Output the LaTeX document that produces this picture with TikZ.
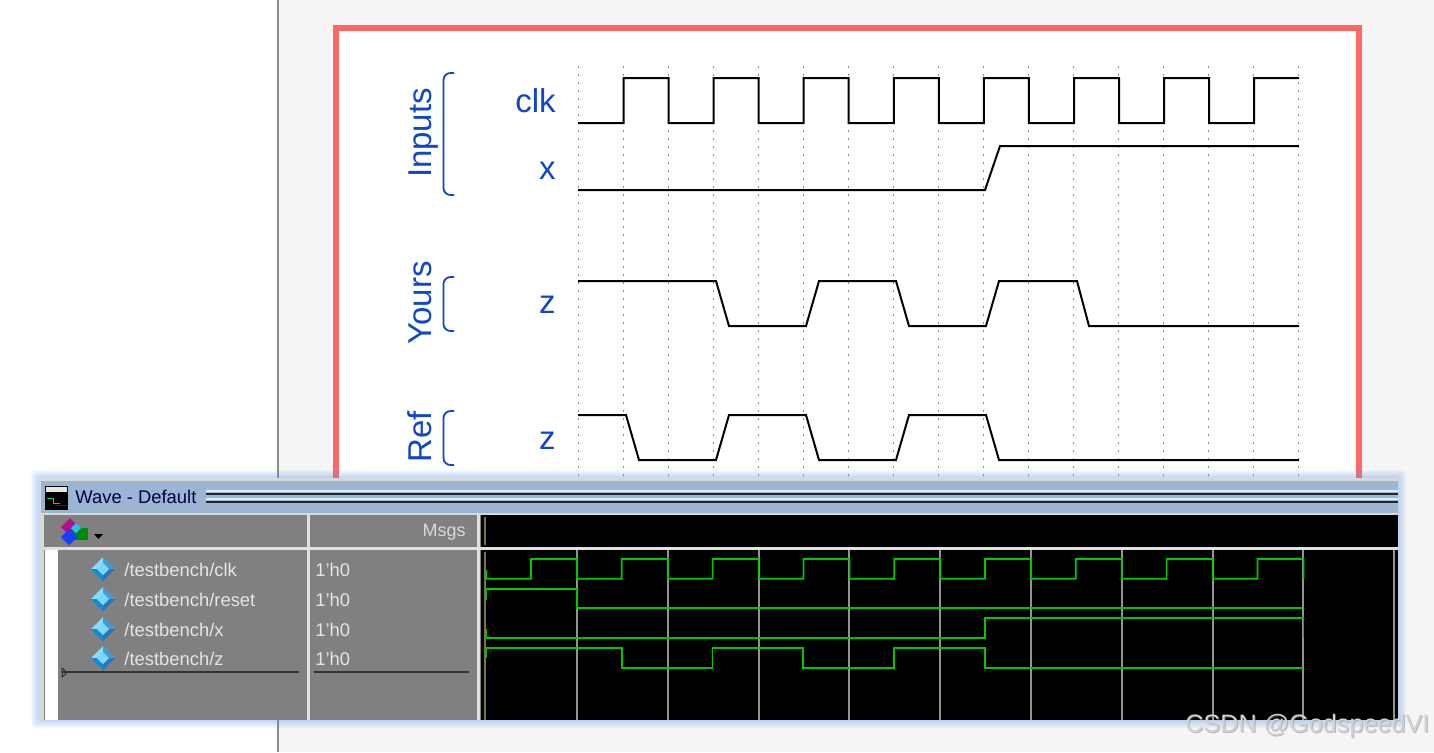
\documentclass[tikz,border=0pt]{standalone}
\usepackage{fontspec}
\setmainfont{Liberation Sans}
\usetikzlibrary{positioning, calc}

\definecolor{boxred}{HTML}{FF6666}
\definecolor{pageback}{HTML}{F5F5F5}
\definecolor{labelblue}{HTML}{0F47C8}
\definecolor{barblue}{HTML}{9BB5D3}
\definecolor{glowblue}{HTML}{5A9BEF}
\definecolor{wavegreen}{HTML}{00C800}
\definecolor{panelgray}{HTML}{808080}

\begin{document}
\begin{tikzpicture}[
    x=0.5pt, y=-0.5pt,
    label/.style={text=labelblue, font=\fontsize{16.5}{16.5}\selectfont, inner sep=0pt},
    siglabel/.style={text=white!90!black, font=\fontsize{9.2}{9.2}\selectfont, inner sep=0pt, anchor=west},
    bracket/.style={draw=labelblue, line width=0.9pt, rounded corners=3.5pt},
    grid/.style={draw=black!45, line width=0.5pt, dash pattern=on 1pt off 3pt},
    wave/.style={draw=black, line width=1pt, line join=miter},
    greenwave/.style={draw=wavegreen, line width=0.85pt},
    divider/.style={draw=white!88!black, line width=1.5pt},
    marker/.style={draw=panelgray!85!white, line width=1pt},
    sigicon/.pic={
        \fill[cyan!45!white] (-12,0) -- (0,-12) -- (0,0) -- cycle;
        \fill[cyan!75!blue!80!white] (0,-12) -- (12,0) -- (0,0) -- cycle;
        \fill[cyan!75!blue] (-12,0) -- (0,12) -- (0,0) -- cycle;
        \fill[cyan!60!blue!85!black] (0,12) -- (12,0) -- (0,0) -- cycle;
        \fill[cyan!50!white] (-6,0) -- (0,-6) -- (6,0) -- (0,6) -- cycle;
    }
]
    \useasboundingbox (0,0) rectangle (1434,752);

    % Page
    \fill[white] (0,0) rectangle (278,752);
    \fill[pageback] (278,0) rectangle (1434,752);
    \draw[draw=black!45, line width=0.75pt] (278,0) -- (278,752);

    % Red frame
    \draw[draw=boxred, fill=white, line width=3pt] (336,28) rectangle (1359,520);

    % Grid
    \foreach \i in {0,...,16}
        \draw[grid] ({578+45.06*\i},66) -- ({578+45.06*\i},477);

    % Traces
    \draw[wave] (578,123) -- (623.5,123)
        \foreach \k in {0,...,6} {
            -- ({623.5+90.1*\k},78) -- ({668.5+90.1*\k},78)
            -- ({668.5+90.1*\k},123) -- ({713.6+90.1*\k},123)
        } -- (1254,78) -- (1299,78);
    \draw[wave] (578,190) -- (985,190) -- (1000,146) -- (1299,146);
    \draw[wave] (578,281) -- (716,281) -- (729,326) -- (806,326) -- (819,281) -- (896,281)
        -- (909,326) -- (986,326) -- (999,281) -- (1077,281) -- (1089,326) -- (1299,326);
    \draw[wave] (578,415) -- (626,415) -- (639,460) -- (716,460) -- (729,415) -- (806,415)
        -- (819,460) -- (896,460) -- (909,415) -- (986,415) -- (999,460) -- (1299,460);

    % Labels
    \node[label, rotate=90, anchor=base] (inputs) at (431,133) {Inputs};
    \node[label, rotate=90, anchor=base] (yours) at (431,303) {Yours};
    \node[label, rotate=90, anchor=base] (ref) at (431,437) {Ref};
    \node[label, anchor=east] (clk) at (556,101) {clk};
    \node[label, anchor=east] (x) at (556,171) {x};
    \node[label, anchor=east] (zyours) at (556,305) {z};
    \node[label, anchor=east] (zref) at (556,441) {z};

    % Brackets
    \draw[bracket] (454,73) -- (443.5,73) -- (443.5,195) -- (454,195);
    \draw[bracket] (454,277) -- (443.5,277) -- (443.5,331) -- (454,331);
    \draw[bracket] (454,411) -- (443.5,411) -- (443.5,465) -- (454,465);

    % Window glow
    \foreach \g in {8,7,...,1}
        \fill[glowblue, opacity=0.05, rounded corners=2pt] ({39-\g},{478-\g}) rectangle ({1398+\g},{720+\g});

    % Window
    \fill[white!85!black] (39,478) rectangle (1398,720);
    \fill[barblue] (41,481) rectangle (1398,513);
    \fill[panelgray] (44,515) rectangle (1398,720);
    \fill[black] (481,515) rectangle (1398,720);
    \fill[white] (45,549) rectangle (58,720);

    % Title bar
    \fill[black] (45,486) rectangle (68,510);
    \fill[white!90!black] (46,487) rectangle (67,492);
    \draw[draw=wavegreen!70!cyan, line width=0.5pt] (47,498) -- (53,498) -- (53,503) -- (60,503);
    \draw[draw=blue!80!magenta, line width=0.5pt] (55,505) -- (66,505);
    \node[anchor=west, inner sep=0pt, text=blue!25!black, font=\fontsize{9.2}{9.2}\selectfont] (title) at (75,497) {Wave - Default};
    \foreach \rowy/\rowcol in {491/cyan!15!white, 494/black!85, 499/cyan!15!white, 502/black!85}
        \draw[draw=\rowcol, line width=0.65pt] (206,\rowy) -- (1398,\rowy);

    % Dividers
    \draw[divider] (44,548) -- (1398,548);
    \draw[divider] (308,515) -- (308,720);
    \draw[divider] (478,515) -- (478,720);

    % Toolbar icon
    \fill[magenta!70!blue] (61,527) -- (70,518) -- (79,527) -- (70,536) -- cycle;
    \fill[green!55!black] (72,528) rectangle (88,540);
    \fill[blue!85!cyan!90!white] (61,537) -- (69,529) -- (78,537) -- (69,545) -- cycle;
    \fill[cyan!80!white] (71,528) -- (76,523) -- (81,528) -- (76,533) -- cycle;
    \fill[black] (94,534) -- (103,534) -- (98.5,539) -- cycle;
    \node[anchor=east, inner sep=0pt, text=white!85!black, font=\fontsize{9}{9}\selectfont] (msgs) at (466,532) {Msgs};

    % Signals
    \foreach \name/\rowy in {clk/569, reset/599, x/629, z/658} {
        \pic at (103,\rowy) {sigicon};
        \node[siglabel] (sig\name) at (124,\rowy+1) {/testbench/\name};
        \node[siglabel] (val\name) at (315,\rowy+1) {1'h0};
    }
    \draw[draw=black!80, line width=0.75pt] (62,672) -- (299,672);
    \draw[draw=black!80, line width=0.75pt] (314,672) -- (469,672);
    \draw[draw=black!80, line width=0.5pt] (62,668) -- (67,672.5) -- (62,677) -- cycle;

    % Cursor and time marks
    \draw[draw=yellow!40!black, line width=0.75pt] (485,517) -- (485,545);
    \draw[draw=yellow!40!black, line width=0.75pt] (485,552) -- (485,720);
    \foreach \k in {0,...,9}
        \draw[marker] ({577+90.8*\k},549.5) -- ({577+90.8*\k},720);

    % Green traces
    \draw[greenwave] (486.5,570) -- (486.5,578.7) -- (531,578.7)
        \foreach \k in {0,...,7} {
            -- ({531+90.8*\k},559) -- ({577+90.8*\k},559)
            -- ({577+90.8*\k},578.7) -- ({621.8+90.8*\k},578.7)
        } -- (1257.4,559) -- (1303.5,559) -- (1303.5,579);
    \draw[greenwave] (486.5,600) -- (486.5,588.7) -- (577,588.7) -- (577,608.3) -- (1303,608.3);
    \draw[greenwave] (486.5,629) -- (486.5,638.3) -- (985,638.3) -- (985,618.3) -- (1303.5,618.3) -- (1303.5,638.3);
    \draw[greenwave] (486.5,658) -- (486.5,648.3) -- (621.7,648.3) -- (621.7,668) -- (712.5,668)
        -- (712.5,648.3) -- (803,648.3) -- (803,668) -- (894,668) -- (894,648.3) -- (985,648.3)
        -- (985,668) -- (1303,668);

    % Watermark
    \node[anchor=west, inner sep=0pt, text=black!45, opacity=0.55, font=\fontsize{12.6}{12.6}\selectfont] (markshadow) at (1186,727) {CSDN @GodspeedVI};
    \node[anchor=west, inner sep=0pt, text=white!82!black, font=\fontsize{12.6}{12.6}\selectfont] (mark) at (1185,726) {CSDN @GodspeedVI};
\end{tikzpicture}
\end{document}
